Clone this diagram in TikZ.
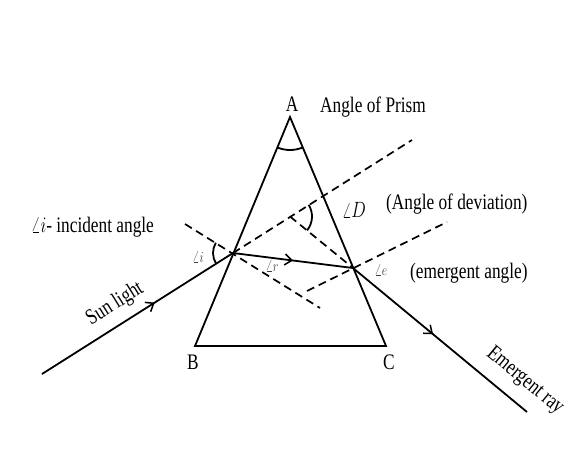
\documentclass[tikz,border=0pt]{standalone}
\usepackage{fontspec}
\setmainfont{Liberation Serif}
\usetikzlibrary{arrows.meta,decorations.markings}
\newcommand\stretchtxt[1]{\scalebox{1}[1.28]{#1}}
\begin{document}
\begin{tikzpicture}[x=1pt,y=1pt,
  ray/.style={line width=1.8pt},
  dsh/.style={line width=1.7pt, dash pattern=on 8pt off 5pt},
  edge/.style={line width=1.8pt, line join=miter},
  midarrow/.style={postaction={decorate},decoration={markings,mark=at position #1 with {\arrow{Straight Barb[length=7pt,width=11pt,line width=1.5pt]}}}},
  lbl/.style={font=\fontsize{17.3}{20}\selectfont, inner sep=0pt},
  small/.style={font=\fontsize{12.5}{14}\selectfont, inner sep=0pt, text=black!75}]
\useasboundingbox (0,0) rectangle (585,475);
% key points
\coordinate (A) at (290,358);
\coordinate (B) at (195,129);
\coordinate (C) at (386,129);
\coordinate (P1) at (233,222);
\coordinate (P2) at (353,207);
\coordinate (S) at (42,101);
\coordinate (E) at (527,63);
\coordinate (X1) at (412,335);
\coordinate (N1a) at (185,251);
\coordinate (N1b) at (320,167);
\coordinate (D0) at (290,258.5);
\coordinate (N2a) at (307,184);
\coordinate (N2b) at (447,253);
% prism
\draw[edge] (A) -- (B) -- (C) -- cycle;
% dashed construction lines
\draw[dsh] (N1a) -- (N1b);
\draw[dsh] (P1) -- (X1);
\draw[dsh] (D0) -- (P2);
\draw[dsh] (N2a) -- (N2b);
% rays
\draw[ray, midarrow=0.59] (S) -- (P1);
\draw[ray, midarrow=0.5] (P1) -- (P2);
\draw[ray, midarrow=0.46] (P2) -- (E);
% angle arcs
\draw[edge] ([shift={(247.5:33)}]A) arc[start angle=247.5, end angle=292.75, radius=33];
\draw[edge] ([shift={(149:20)}]P1) arc[start angle=149, end angle=212, radius=20];
\draw[edge] ([shift={(-39:22)}]D0) arc[start angle=-39, end angle=32, radius=22];
% labels
\node[lbl] (lA) at (292,371) {\stretchtxt{A}};
\node[lbl] (lB) at (193,113) {\stretchtxt{B}};
\node[lbl] (lC) at (389,113) {\stretchtxt{C}};
\node[lbl, anchor=west] (lprism) at (320,368) {\stretchtxt{Angle of Prism}};
\node[lbl] (lD) at (354,265) {\stretchtxt{$\angle D$}};
\node[lbl, anchor=west] (ldev) at (386,271) {\stretchtxt{(Angle of deviation)}};
\node[lbl, anchor=west] (linc) at (31,248) {\stretchtxt{$\angle i$- incident angle}};
\node[small] (li) at (198,218) {\stretchtxt{$\angle i$}};
\node[small] (lr) at (272,209) {\stretchtxt{$\angle r$}};
\node[small] (le) at (381,205) {\stretchtxt{$\angle e$}};
\node[lbl, anchor=west] (lem) at (410,202) {\stretchtxt{(emergent angle)}};
\node[lbl, rotate=32] (lsun) at (115,171) {\stretchtxt{Sun light}};
\node[lbl, rotate=-39.6] (lray) at (525,94) {\stretchtxt{Emergent ray}};
\end{tikzpicture}
\end{document}
